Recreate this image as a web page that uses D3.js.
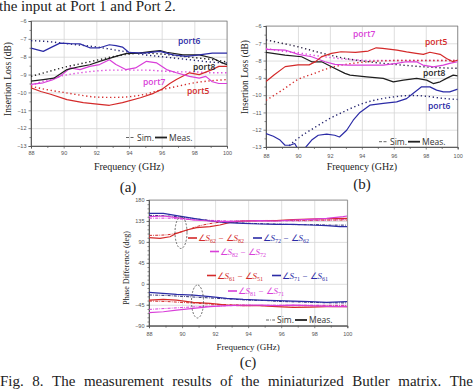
<!DOCTYPE html>
<html>
<head>
<meta charset="utf-8">
<script src="https://d3js.org/d3.v7.min.js"></script>
<style>
  body { margin: 0; background: #fff; }
  svg { display: block; }
  .axis path, .axis line { stroke: #555; stroke-width: 0.7; }
  .axis text { font-family: "Liberation Sans", Arial, sans-serif; font-size: 5.5px; fill: #555; }
  .grid line { stroke: #d6d6d6; stroke-width: 0.8; }
  .grid path { display: none; }
  .serif { font-family: "Liberation Serif", "Times New Roman", serif; fill: #222; }
  .sans { font-family: "Open Sans", "Liberation Sans", sans-serif; }
</style>
</head>
<body>
<svg id="fig" width="474" height="389"></svg>
<script>
// ---- data ----
const freqTicks = [88, 90, 92, 94, 96, 98, 100];
const lossTicks = [-6, -7, -8, -9, -10, -11, -12, -13];
const phaseTicks = [180, 135, 90, 45, 0, -45, -90];
const simFreq = [88, 89, 90, 91, 92, 93, 94, 95, 96, 97, 98, 99, 100];

// (a) input at port 1
const aPort6Meas = [[88,-7.52],[88.4,-7.62],[88.75,-7.7],[89.3,-7.45],[89.77,-7.24],[90.4,-7.27],[91.0,-7.28],[91.6,-7.5],[92.2,-7.5],[92.8,-7.33],[93.2,-7.38],[93.6,-7.46],[94.0,-7.76],[94.9,-7.8],[95.9,-7.7],[96.7,-7.9],[97.5,-7.98],[98.3,-7.9],[99.1,-7.8],[100,-7.8]];
const aPort8Meas = [[88,-9.37],[88.75,-9.28],[89.4,-9.2],[90.2,-8.72],[91.0,-8.55],[91.6,-8.45],[92.2,-8.26],[93.2,-7.98],[93.8,-7.83],[94.6,-7.8],[95.3,-7.72],[95.9,-7.66],[96.3,-7.75],[97.3,-7.9],[98.3,-7.9],[99.1,-8.07],[99.6,-8.3],[100,-8.44]];
const aPort7Meas = [[88,-9.55],[88.75,-9.46],[89.3,-9.3],[89.77,-9.1],[90.4,-8.63],[91.0,-8.72],[91.6,-8.54],[92.2,-8.44],[92.8,-8.17],[93.2,-8.44],[93.8,-8.72],[94.4,-8.63],[95.07,-8.26],[95.7,-8.35],[96.3,-8.72],[96.9,-8.9],[97.7,-9.1],[98.3,-9.2],[98.7,-9.1],[99.1,-9.4],[99.5,-9.5],[100,-9.5]];
const aPort5Meas = [[88,-9.74],[88.6,-9.95],[89.2,-10.1],[90.2,-10.4],[91.2,-10.57],[92.2,-10.67],[92.8,-10.72],[93.6,-10.57],[94.7,-10.3],[95.5,-10.05],[96.0,-9.83],[96.5,-9.5],[96.9,-9.28],[97.7,-8.9],[98.3,-9.0],[99.1,-8.72],[99.5,-8.54],[100,-8.54]];
const aPort6Sim = [-7.1, -7.15, -7.25, -7.35, -7.45, -7.6, -7.75, -7.9, -8.0, -8.1, -8.2, -8.3, -8.35];
const aPort8Sim = [-9.1, -8.85, -8.6, -8.4, -8.2, -8.0, -7.85, -7.8, -7.85, -7.95, -8.05, -8.15, -8.3];
const aPort7Sim = [-9.6, -9.3, -9.05, -8.9, -8.8, -8.75, -8.75, -8.75, -8.8, -8.85, -8.85, -8.9, -8.9];
const aPort5Sim = [-9.65, -9.85, -10.0, -10.15, -10.26, -10.28, -10.24, -10.1, -9.85, -9.65, -9.46, -9.35, -9.28];

// (b) input at port 2
const bPort5Meas = [[88,-9.22],[88.5,-8.83],[89.2,-8.35],[90.0,-8.25],[90.7,-8.25],[91.1,-8.06],[91.5,-7.77],[92.1,-7.58],[92.7,-7.49],[93.6,-7.53],[94.4,-7.45],[94.9,-7.26],[95.3,-7.3],[96.2,-7.4],[96.8,-7.5],[97.4,-7.58],[97.85,-7.64],[98.26,-7.52],[98.9,-7.64],[99.3,-7.88],[99.7,-8.07],[100,-7.97]];
const bPort7Meas = [[88,-7.35],[89.19,-7.39],[90.02,-7.64],[90.86,-7.78],[91.69,-8.07],[92.32,-8.22],[93.13,-8.26],[94.5,-8.26],[95.34,-8.26],[96.18,-8.16],[96.8,-8.07],[97.43,-8.07],[97.82,-8.26],[98.47,-8.36],[99.1,-8.26],[99.5,-8.16],[100,-8.07]];
const bPort8Meas = [[88,-7.53],[89.19,-7.68],[90.23,-7.78],[90.86,-8.07],[91.49,-8.07],[92.1,-8.36],[92.94,-8.74],[93.26,-8.84],[94.3,-8.94],[95.34,-9.03],[95.97,-9.23],[96.6,-9.13],[97.43,-9.03],[98.06,-9.13],[98.47,-9.33],[98.9,-9.23],[99.3,-9.03],[99.72,-8.84],[100,-8.88]];
const bPort6Meas = [[88,-12.22],[88.46,-12.38],[88.88,-12.6],[89.19,-12.9],[89.5,-12.9],[89.8,-12.8],[90.1,-13.3],[90.5,-13.0],[90.86,-12.6],[91.27,-12.32],[91.8,-12.26],[92.3,-12.32],[92.6,-12.42],[93.05,-12.03],[93.46,-11.45],[93.88,-11.0],[94.5,-10.58],[95.34,-10.48],[96.18,-10.39],[96.8,-10.2],[97.2,-9.9],[97.74,-9.52],[98.26,-9.52],[98.68,-9.71],[99.1,-9.81],[99.5,-9.81],[100,-9.65]];
const bPort8Sim = [-6.8, -7.0, -7.2, -7.45, -7.68, -7.88, -8.02, -8.13, -8.22, -8.3, -8.37, -8.42, -8.45];
const bPort7Sim = [-7.3, -7.45, -7.55, -7.7, -7.82, -7.92, -7.98, -8.0, -8.0, -8.0, -8.0, -8.0, -8.0];
const bPort5Sim = [-10.3, -9.72, -9.1, -8.75, -8.42, -8.22, -8.1, -8.03, -8.0, -8.0, -8.0, -8.0, -8.0];
const bPort6Sim = [-14.2, -13.3, -12.5, -11.9, -11.35, -10.9, -10.5, -10.25, -10.1, -10.02, -10.06, -10.18, -10.25];

// (c) phase difference
const cUpBlueMeas = [[88,151.3],[88.87,151.3],[89.67,146.3],[90.68,140.6],[91.69,134.9],[92.7,131.3],[93.7,129.9],[94.71,128.5],[95.72,127.7],[96.73,127.7],[97.74,126.3],[98.75,124.8],[99.55,122.7],[100,122.7]];
const cUpPinkMeas = [[88,144.2],[88.87,145.6],[89.67,142],[90.68,137],[91.69,134.9],[92.7,133.4],[93.7,134.9],[94.71,135.6],[95.72,134.9],[96.73,137],[97.74,138.5],[98.75,140.6],[99.75,144.2],[100,145.6]];
const cUpRedMeas = [[88,99],[88.67,97.6],[89.27,101],[89.67,108.4],[90.28,115.5],[90.88,120.5],[91.69,122.7],[92.29,126.3],[92.9,132],[93.7,134.9],[94.71,135.6],[95.72,135.6],[96.73,137.7],[97.74,139.2],[98.75,139.9],[100,140.6]];
const cLowBlueMeas = [[88,-18.4],[89.67,-22.7],[90.68,-24.2],[91.69,-27.7],[92.7,-31.3],[93.7,-33.5],[94.71,-34.9],[95.72,-36.3],[96.73,-37],[97.74,-38.5],[98.75,-39.9],[100,-38.5]];
const cLowRedMeas = [[88,-34.9],[88.87,-33.5],[89.67,-34.9],[90.68,-39.9],[91.69,-42.1],[92.7,-45.6],[93.7,-47],[94.71,-47],[95.72,-49.2],[96.73,-50.7],[97.74,-50],[98.75,-49.2],[100,-49.2]];
const cLowPinkMeas = [[88,-62.1],[88.87,-60],[89.67,-56.4],[90.68,-52.8],[91.69,-49.2],[92.7,-47],[93.7,-45.6],[94.71,-45.6],[95.72,-47],[96.73,-45.6],[97.74,-47],[98.75,-48.5],[100,-49.2]];
const cUpBlueSim = [147, 146, 143, 139, 135, 132, 130, 129, 128, 127, 127, 126, 126];
const cUpPinkSim = [141, 141, 139, 137, 136, 135, 135, 135, 135, 135, 136, 137, 138];
const cUpRedSim = [104, 105, 112, 124, 131, 134, 135, 136, 136, 136, 137, 137, 137];
const cLowBlueSim = [-24, -25, -27, -29, -31, -33, -35, -36, -38, -39, -40, -41, -41];
const cLowRedSim = [-37, -38, -40, -42, -44, -45, -46, -47, -47, -47, -47, -47, -47];
const cLowPinkSim = [-55, -53, -51, -49, -48, -47, -47, -46, -46, -46, -46, -46, -46];

const blue = "#2b2ba6", red = "#d42a2a", pink = "#d93fd9", black = "#1e1e1e";

const svg = d3.select("#fig");
svg.append("rect").attr("width", 474).attr("height", 389).attr("fill", "#fff");

function panel(o) {
  const g = svg.append("g");
  const x = d3.scaleLinear().domain([88, 100]).range([o.x0, o.x1]);
  const y = d3.scaleLinear().domain([o.ymin, o.ymax]).range([o.y1, o.y0]);
  const w = o.x1 - o.x0, h = o.y1 - o.y0;

  g.append("g").attr("class", "grid").attr("transform", `translate(0,${o.y1})`)
    .call(d3.axisBottom(x).tickValues(freqTicks).tickSize(-h).tickFormat(""));
  g.append("g").attr("class", "grid").attr("transform", `translate(${o.x0},0)`)
    .call(d3.axisLeft(y).tickValues(o.yTicks).tickSize(-w).tickFormat(""));
  g.append("rect").attr("x", o.x0).attr("y", o.y0).attr("width", w).attr("height", h)
    .attr("fill", "none").attr("stroke", "#777").attr("stroke-width", 0.7);

  // minor ticks
  g.append("g").attr("class", "axis").attr("transform", `translate(0,${o.y1})`)
    .call(d3.axisBottom(x).tickValues(d3.range(89, 100, 2)).tickSize(2).tickFormat(""));
  g.append("g").attr("class", "axis").attr("transform", `translate(${o.x0},0)`)
    .call(d3.axisLeft(y).tickValues(o.yMinor).tickSize(1.5).tickFormat(""));

  g.append("g").attr("class", "axis").attr("transform", `translate(0,${o.y1})`)
    .call(d3.axisBottom(x).tickValues(freqTicks).tickSize(2.5).tickPadding(o.xPad).tickFormat(d3.format("d")));
  g.append("g").attr("class", "axis").attr("transform", `translate(${o.x0},0)`)
    .call(d3.axisLeft(y).tickValues(o.yTicks).tickSize(2.5).tickPadding(2).tickFormat(d3.format("d")));

  const clipId = "clip" + o.name;
  g.append("clipPath").attr("id", clipId).append("rect")
    .attr("x", o.x0).attr("y", o.y0).attr("width", w).attr("height", h);
  const plot = g.append("g").attr("clip-path", `url(#${clipId})`);

  const line = d3.line().x(d => x(d[0])).y(d => y(d[1])).curve(d3.curveLinear);
  const smooth = d3.line().x(d => x(d[0])).y(d => y(d[1])).curve(d3.curveMonotoneX);

  o.sims.forEach(s => {
    plot.append("path").datum(simFreq.map((f, i) => [f, s.v[i]]))
      .attr("fill", "none").attr("stroke", s.c).attr("stroke-width", s.w || 1.4)
      .attr("stroke-dasharray", s.dash || "1.3,2.7").attr("d", smooth);
  });
  o.meas.forEach(s => {
    plot.append("path").datum(s.v)
      .attr("fill", "none").attr("stroke", s.c).attr("stroke-width", 1.2)
      .attr("stroke-linejoin", "round").attr("d", line);
  });

  g.append("text").attr("class", "serif")
    .attr("x", (o.x0 + o.x1) / 2).attr("y", o.xLabelY)
    .attr("text-anchor", "middle").attr("font-size", o.labelSize)
    .text("Frequency (GHz)");
  g.append("text").attr("class", "serif")
    .attr("transform", `translate(${o.yLabelX},${o.yLabelMid}) rotate(-90)`)
    .attr("text-anchor", "middle").attr("font-size", o.yLabelSize)
    .text(o.yLabel);
  g.append("text").attr("class", "serif")
    .attr("x", o.capX).attr("y", o.capY)
    .attr("text-anchor", "middle").attr("font-size", 15)
    .text(o.cap);
  return {g, x, y};
}

function simMeasLegend(g, lx, ly, dash) {
  g.append("line").attr("x1", lx).attr("x2", lx + 9).attr("y1", ly).attr("y2", ly)
    .attr("stroke", "#555").attr("stroke-width", 0.9).attr("stroke-dasharray", dash);
  g.append("text").attr("class", "sans").attr("x", lx + 11).attr("y", ly + 3)
    .attr("font-size", 8.5).attr("fill", "#333").text("Sim.");
  g.append("line").attr("x1", lx + 29).attr("x2", lx + 41).attr("y1", ly).attr("y2", ly)
    .attr("stroke", "#222").attr("stroke-width", 1.8);
  g.append("text").attr("class", "sans").attr("x", lx + 43).attr("y", ly + 3)
    .attr("font-size", 8.5).attr("fill", "#333").text("Meas.");
}

function portLabel(g, x, y, c, t) {
  g.append("text").attr("class", "sans").attr("x", x).attr("y", y)
    .attr("font-size", 8.5).attr("font-weight", 600).attr("fill", c).text(t);
}

// ---- panel (a) ----
const pa = panel({
  name: "a", x0: 31, x1: 227, y0: 21, y1: 146, ymin: -13, ymax: -6,
  yTicks: lossTicks, yMinor: d3.range(-12.5, -6, 1), xPad: 3,
  sims: [
    {v: aPort6Sim, c: "#24246e"}, {v: aPort8Sim, c: black},
    {v: aPort7Sim, c: pink}, {v: aPort5Sim, c: red}
  ],
  meas: [
    {v: aPort5Meas, c: red}, {v: aPort7Meas, c: pink},
    {v: aPort8Meas, c: black}, {v: aPort6Meas, c: blue}
  ],
  xLabelY: 170, labelSize: 10, yLabel: "Insertion Loss (dB)", yLabelX: 11, yLabelMid: 79, yLabelSize: 9.5,
  cap: "(a)", capX: 128, capY: 192
});
simMeasLegend(pa.g, 126, 137.5, "3,1.5");
portLabel(pa.g, 178, 43.5, blue, "port6");
portLabel(pa.g, 193, 69.5, black, "port8");
portLabel(pa.g, 143, 84.5, pink, "port7");
portLabel(pa.g, 187, 94, red, "port5");

// ---- panel (b) ----
const pb = panel({
  name: "b", x0: 266, x1: 457.7, y0: 26, y1: 147, ymin: -13, ymax: -6,
  yTicks: lossTicks, yMinor: d3.range(-12.5, -6, 1), xPad: 5,
  sims: [
    {v: bPort8Sim, c: "#2a2040"}, {v: bPort7Sim, c: pink},
    {v: bPort5Sim, c: red}, {v: bPort6Sim, c: "#24246e"}
  ],
  meas: [
    {v: bPort8Meas, c: black}, {v: bPort7Meas, c: pink},
    {v: bPort5Meas, c: red}, {v: bPort6Meas, c: blue}
  ],
  xLabelY: 170, labelSize: 10, yLabel: "Insertion Loss (dB)", yLabelX: 248, yLabelMid: 77, yLabelSize: 9.5,
  cap: "(b)", capX: 362, capY: 189
});
simMeasLegend(pb.g, 379, 141.7, "3,1.5");
portLabel(pb.g, 353, 37, pink, "port7");
portLabel(pb.g, 425, 44.5, red, "port5");
portLabel(pb.g, 423, 75.5, black, "port8");
portLabel(pb.g, 428, 109, blue, "port6");

// ---- panel (c) ----
const pc = panel({
  name: "c", x0: 149, x1: 347.3, y0: 200, y1: 325.7, ymin: -90, ymax: 180,
  yTicks: phaseTicks, yMinor: d3.range(-81, 180, 9), xPad: 4,
  sims: [
    {v: cUpBlueSim, c: "#303070", dash: "3,1.2,0.8,1.2", w: 1},
    {v: cUpPinkSim, c: pink, dash: "3,1.2,0.8,1.2", w: 1},
    {v: cUpRedSim, c: red, dash: "3,1.2,0.8,1.2", w: 1},
    {v: cLowBlueSim, c: "#303070", dash: "3,1.2,0.8,1.2", w: 1},
    {v: cLowRedSim, c: red, dash: "3,1.2,0.8,1.2", w: 1},
    {v: cLowPinkSim, c: pink, dash: "3,1.2,0.8,1.2", w: 1}
  ],
  meas: [
    {v: cUpRedMeas, c: red}, {v: cUpBlueMeas, c: blue}, {v: cUpPinkMeas, c: pink},
    {v: cLowBlueMeas, c: blue}, {v: cLowRedMeas, c: red}, {v: cLowPinkMeas, c: pink}
  ],
  xLabelY: 350, labelSize: 9, yLabel: "Phase Difference (deg)", yLabelX: 129, yLabelMid: 268, yLabelSize: 8,
  cap: "(c)", capX: 248, capY: 367
});
simMeasLegend(pc.g, 266, 320, "3,1.2,0.8,1.2");

// phase legend entries: [x, y, colour, first port pair, second port pair]
const cLegend = [
  [188, 238, red, "62", "82"], [253, 238, blue, "72", "62"], [210, 251.5, pink, "82", "72"],
  [207, 275.5, red, "61", "51"], [272, 275.5, blue, "71", "61"], [228, 291, pink, "81", "71"]
];
cLegend.forEach(([lx, ly, c, a, b]) => {
  pc.g.append("line").attr("x1", lx).attr("x2", lx + 9).attr("y1", ly).attr("y2", ly)
    .attr("stroke", c).attr("stroke-width", 1.6);
  const t = pc.g.append("text").attr("class", "serif").attr("x", lx + 9.5).attr("y", ly + 3)
    .attr("font-size", 9).style("fill", c);
  t.append("tspan").text("\u2220");
  t.append("tspan").attr("font-style", "italic").text("S");
  t.append("tspan").attr("font-size", 6).attr("dy", 2).text(a);
  t.append("tspan").attr("dy", -2).text(" \u2212 \u2220");
  t.append("tspan").attr("font-style", "italic").text("S");
  t.append("tspan").attr("font-size", 6).attr("dy", 2).text(b);
});
// dashed ellipses marking the groups
[[181, 232.5, 6, 16], [197.5, 301.5, 6, 16.5]].forEach(([cx, cy, rx, ry]) => {
  pc.g.append("ellipse").attr("cx", cx).attr("cy", cy).attr("rx", rx).attr("ry", ry)
    .attr("fill", "none").attr("stroke", "#333").attr("stroke-width", 0.7)
    .attr("stroke-dasharray", "2,1.5");
});

// ---- surrounding paper text ----
svg.append("text").attr("class", "serif").attr("x", -1).attr("y", 11)
  .attr("font-size", 15).text("the input at Port 1 and Port 2.");

const captionWords = "Fig. 8. The measurement results of the miniaturized Butler matrix. The".split(" ");
const cap = svg.append("g");
const widths = captionWords.map(wd => {
  const t = cap.append("text").attr("class", "serif").attr("font-size", 15).attr("y", 386).text(wd);
  return t;
});
const total = d3.sum(widths, t => t.node().getComputedTextLength());
const gap = (473 - total) / (captionWords.length - 1);
let cx = 0;
widths.forEach(t => { t.attr("x", cx); cx += t.node().getComputedTextLength() + gap; });
</script>
</body>
</html>
